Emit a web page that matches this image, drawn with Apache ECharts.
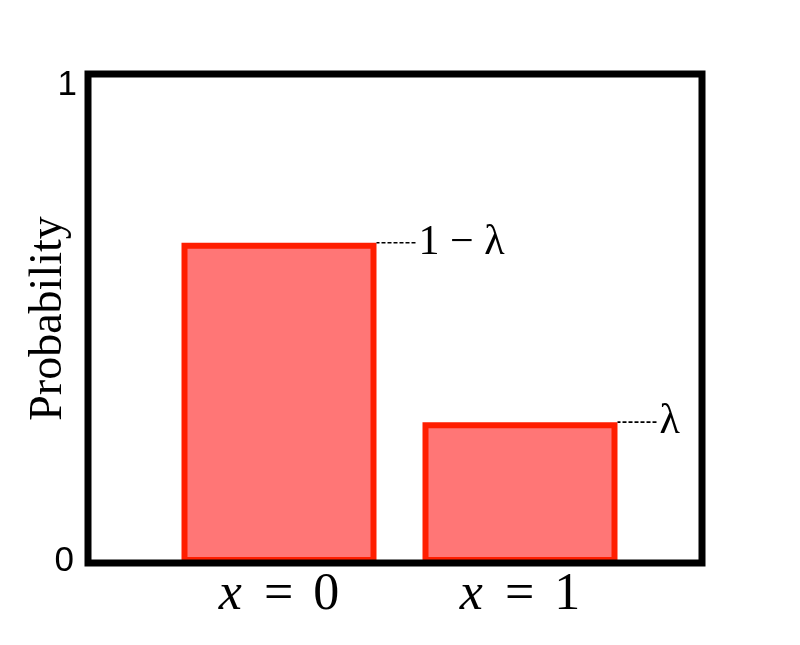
<!DOCTYPE html>
<html><head><meta charset="utf-8">
<script src="https://cdn.jsdelivr.net/npm/echarts@6/dist/echarts.min.js"></script>
<style>html,body{margin:0;padding:0;background:#fff}#c{width:800px;height:645px}</style>
</head><body><div id="c"></div>
<script>
const categories = ['0', '1'];
const probabilities = [0.655, 0.288];
const barLabels = ['1 − λ', 'λ'];
const yTicks = [0, 1];

const chart = echarts.init(document.getElementById('c'));
const serif = 'Liberation Serif';
const sans = 'Liberation Sans';
chart.setOption({
  backgroundColor: '#fff',
  animation: false,
  textStyle: {fontFamily: serif},
  grid: [
    {left: 88, right: 98, top: 74, bottom: 82, outerBoundsMode: 'none', containLabel: false, show: true, borderColor: '#000', borderWidth: 7, backgroundColor: 'transparent', z: 5},
    {left: 158.5, right: 159.5, top: 74, bottom: 82, outerBoundsMode: 'none', containLabel: false}
  ],
  xAxis: [
    {gridIndex: 0, type: 'value', min: 0, max: 1, axisLine: {show: false}, axisTick: {show: false}, axisLabel: {show: false}, splitLine: {show: false}},
    {gridIndex: 1, type: 'category', data: categories, axisLine: {show: false}, axisTick: {show: false},
      axisLabel: {interval: 0, margin: 4, color: '#000', fontFamily: serif, fontSize: 52, lineHeight: 56,
        formatter: v => '{i|x}{e|=}{n|' + v + '}',
        rich: {i: {fontStyle: 'italic', fontFamily: serif, fontSize: 52, lineHeight: 56, color: '#000'},
               e: {fontFamily: serif, fontSize: 52, lineHeight: 56, color: '#000', padding: [0, 20, 0, 22]},
               n: {fontFamily: serif, fontSize: 52, lineHeight: 56, color: '#000'}}}}
  ],
  yAxis: [
    {gridIndex: 0, type: 'value', min: yTicks[0], max: yTicks[1], interval: 1,
      axisLine: {show: false}, axisTick: {show: false}, splitLine: {show: false},
      axisLabel: {color: '#000', fontSize: 35, fontFamily: sans, margin: 11,
        formatter: v => v === yTicks[yTicks.length - 1] ? '{top|' + v + '}' : '{n|' + v + '}',
        rich: {top: {fontFamily: sans, fontSize: 35, color: '#000', padding: [22, 0, 0, 0]},
               n: {fontFamily: sans, fontSize: 35, color: '#000', padding: [0, 3, 4, 0]}}},
      name: 'Probability', nameLocation: 'middle', nameRotate: 90, nameGap: 16, nameMoveOverlap: false,
      nameTextStyle: {color: '#000', fontFamily: serif, fontSize: 46}},
    {gridIndex: 1, type: 'value', min: 0, max: 1, show: false}
  ],
  series: [{
    type: 'bar', xAxisIndex: 1, yAxisIndex: 1,
    data: probabilities.map((v, i) => ({value: v, label: {formatter: '{d|}{t|' + barLabels[i] + '}'}})),
    barWidth: 195,
    itemStyle: {color: '#ff7676', borderColor: '#ff1e00', borderWidth: 6},
    label: {show: true, position: ['100%', 0], align: 'left', verticalAlign: 'middle',
      fontFamily: serif, fontSize: 42, color: '#000',
      rich: {
        d: {width: 40, height: 0, borderColor: '#000', borderWidth: 1.6, borderType: [3, 3]},
        t: {fontFamily: serif, fontSize: 42, color: '#000', padding: [0, 0, 0, 2]}
      }}
  }]
});
</script></body></html>
